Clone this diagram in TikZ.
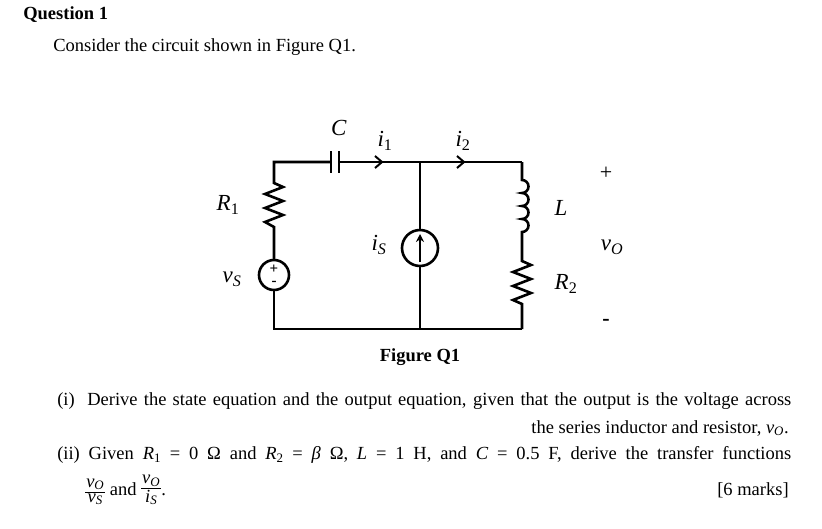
\documentclass[tikz,border=0pt]{standalone}
\usepackage{fontspec}
\setmainfont{Liberation Serif}
\usetikzlibrary{arrows.meta}
\newcommand{\iv}[2]{\textit{#1}\textsubscript{\textit{#2}}}
\newcommand{\ivr}[2]{\textit{#1}\textsubscript{#2}}
\newcommand{\fr}[2]{\raisebox{-0.35em}{\shortstack{#1\\[-1pt]\rule{20pt}{0.6pt}\\[-2pt]#2}}}
\begin{document}
\begin{tikzpicture}[x=1pt,y=-1pt,line width=2.6pt,
  txt/.style={font=\fontsize{18.5}{22}\selectfont,inner sep=0pt},
  lab/.style={font=\fontsize{23}{26}\selectfont,inner sep=0pt}]
\useasboundingbox (0,0) rectangle (822,528);
% text
\node[txt,anchor=west,font=\fontsize{18.5}{22}\selectfont\bfseries] (q) at (22,15) {Question 1};
\node[txt,anchor=west] (c) at (52,47) {Consider the circuit shown in Figure Q1.};
\node[txt,font=\fontsize{18.5}{22}\selectfont\bfseries] (f) at (420,357) {Figure Q1};
\node[txt,anchor=west] (i1) at (56,401) {\makebox[734pt][s]{(i)\ \ Derive the state equation and the output equation, given that the output is the voltage across}};
\node[txt,anchor=east] (i2) at (790,428) {the series inductor and resistor, \iv{v}{O}.};
\node[txt,anchor=west] (ii) at (56,455) {\makebox[734pt][s]{(ii) Given \ivr{R}{1} = 0 Ω and \ivr{R}{2} = \textit{β} Ω, \textit{L} = 1 H, and \textit{C} = 0.5 F, derive the transfer functions}};
\node[txt,anchor=west] (fr) at (84,490) {\fr{\iv{v}{O}}{\iv{v}{S}} and \fr{\iv{v}{O}}{\iv{i}{S}}.};
\node[txt,anchor=east] (mk) at (790,490) {[6 marks]};
% coordinates
\coordinate (tl) at (274,162); \coordinate (tr) at (522,162);
\coordinate (bl) at (274,329); \coordinate (br) at (522,329);
\coordinate (tm) at (420,162); \coordinate (bm) at (420,329);
% left branch
\draw (331,162) -- (tl) -- (274,183) -- (283,187) -- (265,194) -- (283,201) -- (265,208) -- (283,215) -- (265,222) -- (274,227) -- (274,260);
\node[circle,draw,minimum size=30pt,inner sep=0pt] (vs) at (274,275) {};
\node[font=\bfseries\fontsize{15}{15}\selectfont,inner sep=0pt] (vsp) at (274,269) {+};
\node[font=\bfseries\fontsize{15}{15}\selectfont,inner sep=0pt] (vsm) at (274,283) {-};
\draw (vs.south) -- (bl) -- (br);
% capacitor
\draw (331,151) -- (331,173);
\draw (339,151) -- (339,173);
\draw (339,162) -- (tr);
% chevrons
\draw[line width=2pt] (375,156) -- (382,162) -- (375,168);
\draw[line width=2pt] (457,156) -- (464,162) -- (457,168);
% middle
\node[circle,draw,minimum size=36pt,inner sep=0pt] (is) at (420,248) {};
\draw (tm) -- (is.north); \draw (is.south) -- (bm);
\draw[line width=2.4pt,-{Stealth[length=8pt,width=8pt]}] (420,262) -- (420,234);
% right branch
\draw (tr) -- (522,180) arc[start angle=-90,end angle=90,radius=6.5]
  arc[start angle=-90,end angle=90,radius=6.5]
  arc[start angle=-90,end angle=90,radius=6.5]
  arc[start angle=-90,end angle=90,radius=6.5] -- (522,261) -- (531,265) -- (513,272) -- (531,279) -- (513,286) -- (531,293) -- (513,300) -- (522,304) -- (br);
% labels
\node[lab] (lC) at (339,128) {\textit{C}};
\node[lab] (li1) at (385,141) {\ivr{i}{1}};
\node[lab] (li2) at (463,141) {\ivr{i}{2}};
\node[lab] (lR1) at (228,205) {\ivr{R}{1}};
\node[lab] (lL) at (561,208) {\textit{L}};
\node[lab] (lis) at (379,245) {\iv{i}{S}};
\node[lab] (lvs) at (232,279) {\iv{v}{S}};
\node[lab] (lR2) at (566,284) {\ivr{R}{2}};
\node[lab] (lvo) at (612,247) {\iv{v}{O}};
\node[txt,font=\fontsize{22}{22}\selectfont] (pl) at (606,173) {+};
\node[txt,font=\fontsize{22}{22}\selectfont\bfseries] (mi) at (606,322) {-};
\end{tikzpicture}
\end{document}
